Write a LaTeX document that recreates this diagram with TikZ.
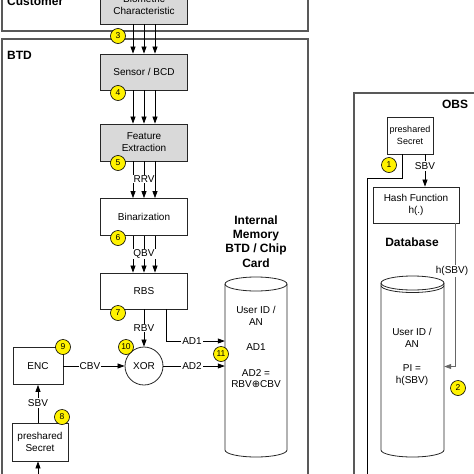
\documentclass[tikz,border=0pt]{standalone}
\usepackage{fontspec}
\setmainfont{Liberation Sans}
\newfontfamily\symfnt{DejaVu Sans}
\usetikzlibrary{arrows.meta}
\begin{document}
\begin{tikzpicture}[x=1pt,y=-1pt,
  region/.style={draw=black!65,line width=1.1pt},
  title/.style={font=\fontsize{12}{14.3}\selectfont\bfseries,align=center,inner sep=0pt},
  blk/.style={draw=black!85,line width=0.8pt,align=center,inner sep=0pt,
     font=\fontsize{10}{12}\selectfont,minimum width=87pt,minimum height=36pt},
  grayblk/.style={blk,fill=gray!30},
  badge/.style={circle,fill=yellow,draw=black,line width=0.6pt,minimum size=15pt,
     inner sep=0pt,font=\fontsize{8.5}{9}\selectfont},
  arr/.style={-{Triangle[length=7pt,width=5pt]},line width=0.7pt},
  ln/.style={line width=0.7pt},
  lbl/.style={fill=white,inner sep=1pt,font=\fontsize{10}{12}\selectfont,align=center},
  txt/.style={inner sep=0pt,font=\fontsize{10}{11.8}\selectfont,align=center},
  cyl/.style={draw=black!85,line width=0.8pt}
]
\useasboundingbox (0,0) rectangle (474,474);
\begin{scope}
\clip (0,0) rectangle (474,474);
% regions
\draw[region] (2,-20) rectangle (308,31);
\draw[region] (2,39) rectangle (308,500);
\draw[region] (354,93) rectangle (500,500);
\node[title,anchor=west] (lcust) at (7,1) {Customer};
\node[title,anchor=west] (lbtd) at (7,55) {BTD};
\node[title] (lobs) at (455,104) {OBS};

% BTD chain
\node[grayblk,minimum height=38pt] (bio) at (144,5) {Biometric\\Characteristic};
\node[grayblk] (sensor) at (144,72) {Sensor / BCD};
\node[grayblk,minimum height=37pt] (feat) at (144,142.5) {Feature\\Extraction};
\node[blk,minimum height=37pt] (bin) at (144,217) {Binarization};
\node[blk] (rbs) at (144,291) {RBS};
\foreach \dx in {-11,0,11}{
  \draw[arr] ([xshift=\dx pt]bio.south) -- ([xshift=\dx pt]sensor.north);
  \draw[arr] ([xshift=\dx pt]sensor.south) -- ([xshift=\dx pt]feat.north);
  \draw[arr] ([xshift=\dx pt]feat.south) -- ([xshift=\dx pt]bin.north);
  \draw[arr] ([xshift=\dx pt]bin.south) -- ([xshift=\dx pt]rbs.north);
}
\node[lbl] (lrrv) at (144,179) {RRV};
\node[lbl] (lqbv) at (144,254) {QBV};

% memory cylinder
\node[inner sep=0pt,minimum width=62pt,minimum height=180pt] (mem) at (256,367) {};
\draw[cyl] (225,284) -- (225,450) arc[start angle=180,end angle=360,x radius=31pt,y radius=7pt] -- (287,284);
\draw[cyl] (256,284) ellipse[x radius=31pt,y radius=7pt];
\node[title] (lmem) at (256,241.5) {Internal\\Memory\\BTD / Chip\\Card};
\node[txt] (mt1) at (256,316) {User ID /\\AN};
\node[txt] (mt2) at (256,347) {AD1};
\node[txt] (mt3) at (256,378.5) {AD2 =\\RBV{\symfnt ⊕}CBV};

% XOR / ENC
\node[draw=black!85,line width=0.8pt,circle,minimum size=38pt,inner sep=0pt,font=\fontsize{10}{12}\selectfont] (xor) at (144,366) {XOR};
\node[blk,minimum width=50pt,minimum height=37pt] (enc) at (38,366) {ENC};
\node[blk,minimum width=56pt,minimum height=38pt] (secL) at (40,442) {preshared\\Secret};
\coordinate (inL) at (38,490);

\draw[arr] (rbs.south) -- (xor.north);
\node[lbl] (lrbv) at (144,328) {RBV};
\draw[arr] ([xshift=22pt]rbs.south) |- ([yshift=26pt]mem.west);
\node[lbl] (lad1) at (192,341) {AD1};
\draw[arr] (xor.east) -- (xor -| mem.west);
\node[lbl] (lad2) at (192,366) {AD2};
\draw[arr] (enc.east) -- (xor.west);
\node[lbl] (lcbv) at (90,366) {CBV};
\draw[arr] (secL.north -| enc) -- (enc.south);
\node[lbl] (lsbv) at (38,403) {SBV};
\draw[arr] (inL) -- (secL.south -| inL);

% OBS side
\node[blk,minimum width=46pt,minimum height=37pt,font=\fontsize{9}{11.5}\selectfont] (secO) at (410,135.5) {preshared\\Secret};
\node[blk,minimum width=86pt,minimum height=36pt] (hash) at (416,205) {Hash Function\\h(.)};
\node[title] (ldb) at (412,242) {Database};
\coordinate (obsend) at (367,500);
\draw[ln] ([xshift=-8pt]secO.south) -- ++(0,24) -| (obsend);
\draw[arr] ([xshift=15pt]secO.south) -- ([xshift=15pt]secO.south |- hash.north);
\node[lbl] (lsbvo) at (425,166) {SBV};

\node[inner sep=0pt,minimum width=63pt,minimum height=181pt] (db) at (412.5,366.5) {};
\draw[cyl] (381,283) -- (381,450) arc[start angle=180,end angle=360,x radius=31.5pt,y radius=7pt] -- (444,283);
\draw[cyl] (412.5,283) ellipse[x radius=31.5pt,y radius=7pt];
\draw[cyl] (381,285.5) arc[start angle=180,end angle=360,x radius=31.5pt,y radius=7pt];
\node[txt] (dt1) at (412,337.5) {User ID /\\AN};
\node[txt] (dt2) at (412,375) {PI =\\h(SBV)};
\draw[arr,draw=black!60] ([xshift=-4pt]hash.south east) |- (db.east);
\node[lbl] (lhsbv) at (452,271) {h(SBV)};

% badges
\node[badge] (b1) at (389,165) {1};
\node[badge] (b2) at (458,388) {2};
\node[badge] (b3) at (118,36) {3};
\node[badge] (b4) at (118,93) {4};
\node[badge] (b5) at (118,163) {5};
\node[badge] (b6) at (118,238) {6};
\node[badge] (b7) at (118,313) {7};
\node[badge] (b8) at (62,417) {8};
\node[badge] (b9) at (63,347) {9};
\node[badge] (b10) at (126,347) {10};
\node[badge] (b11) at (221,354) {11};
\end{scope}
\end{tikzpicture}
\end{document}
